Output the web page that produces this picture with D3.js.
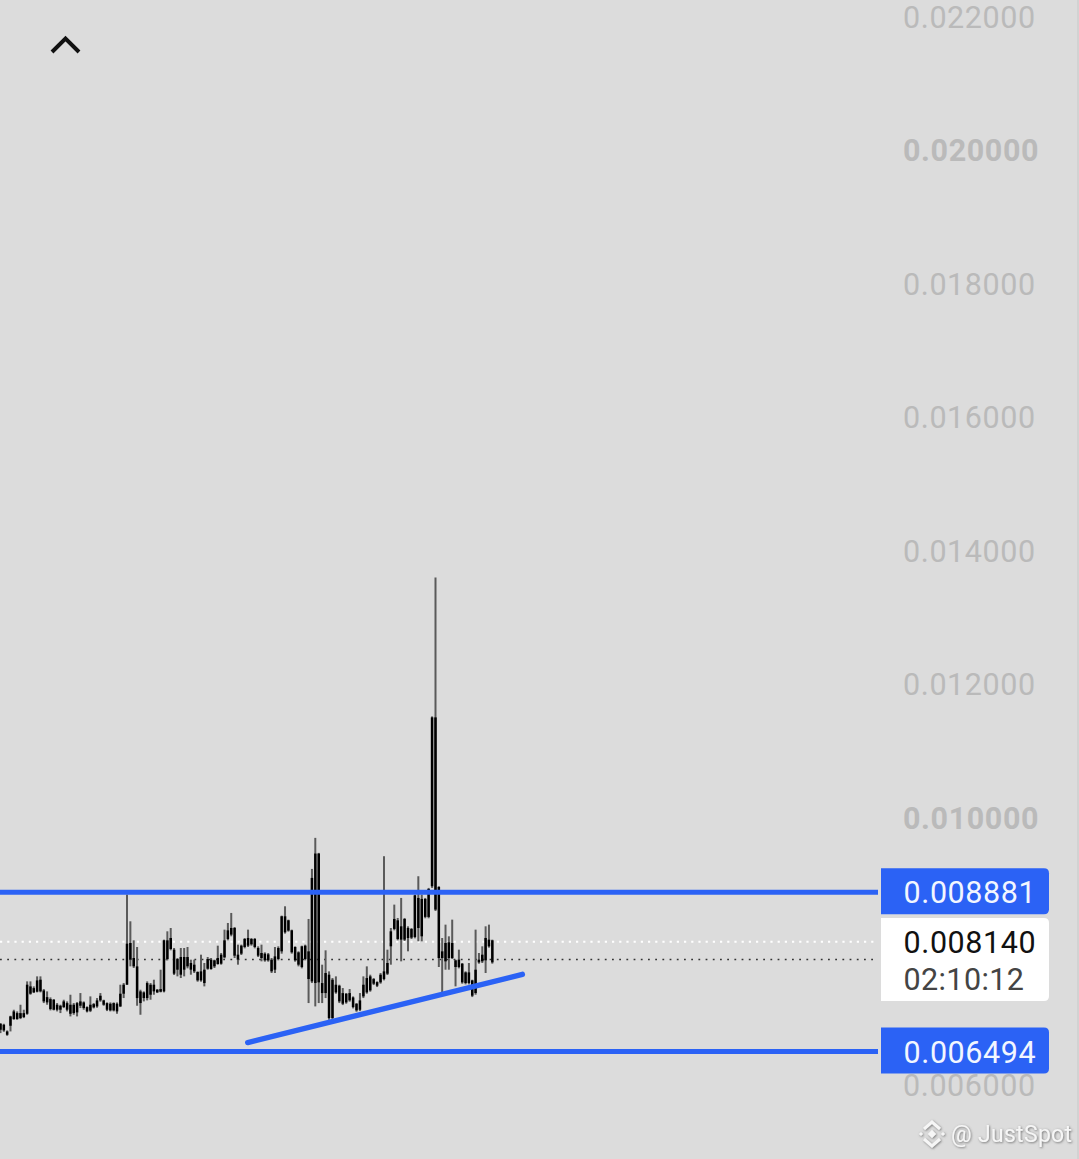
<!DOCTYPE html>
<html><head><meta charset="utf-8">
<script src="https://cdn.jsdelivr.net/npm/d3@7"></script>
<style>html,body{margin:0;padding:0;background:#dcdcdc}svg{display:block}text{font-family:Roboto,sans-serif}</style>
</head><body><svg id="c" width="1079" height="1159"></svg>
<script>
// Prices in millionths (0.000001)
const highs=[6920,6910,6810,7030,7120,7095,7195,7120,7545,7545,7470,7620,7620,7430,7395,7305,7280,7220,7195,7270,7245,7345,7220,7235,7370,7245,7170,7320,7220,7295,7370,7270,7230,7230,7230,7230,7495,7520,8845,8445,8160,8060,7420,7395,7545,7520,7570,7430,7720,8170,8295,8345,8045,7895,8045,8045,8060,7870,7870,7695,7945,7820,7910,7895,7870,8080,7970,8320,8420,8570,8360,8095,8095,8195,8320,8195,8195,8070,8095,7980,7970,7895,8060,8070,8530,8670,8470,8320,8070,7995,8080,8095,8480,9230,9695,9470,7795,8010,7695,7595,7620,7495,7445,7370,7430,7320,7220,7370,7620,7770,7645,7595,7545,7670,9420,8020,8345,8695,8495,8795,8495,8370,8345,8845,9120,8845,8795,8945,11515,13595,8970,8195,8395,8220,8470,7870,8020,7820,7695,7820,7570,8320,7970,8070,8370,8395,8170];
const lows=[6770,6790,6730,6795,6970,6970,6980,6995,7045,7345,7370,7380,7380,7220,7195,7110,7110,7095,7070,7145,7095,7020,7045,7020,7145,7120,7080,7085,7140,7150,7240,7180,7100,7095,7095,7060,7160,7295,7495,7770,7745,7180,7045,7245,7260,7270,7345,7370,7380,7380,7860,8010,7640,7620,7595,7620,7740,7645,7670,7540,7540,7470,7720,7720,7745,7795,7795,7890,8160,8220,7895,7795,7940,8040,8060,8080,8040,7910,7845,7840,7840,7670,7670,7860,7960,8260,8290,7960,7840,7770,7740,7860,7220,7520,7170,7220,7220,7295,6970,6920,7360,7220,7190,7210,7240,7140,7090,7100,7295,7360,7390,7490,7460,7510,7560,7640,7795,8310,8160,7845,8150,7995,8180,8190,8145,8145,8490,8490,8945,8600,7760,7370,7720,7720,7880,7470,7740,7510,7500,7500,7310,7345,7810,7820,7670,8050,7810];
const bodyTops=[6910,6895,6795,7020,7095,7070,7070,7070,7495,7470,7445,7560,7570,7410,7310,7280,7270,7195,7180,7245,7220,7195,7195,7220,7245,7230,7160,7195,7205,7260,7330,7260,7220,7210,7220,7210,7360,7495,8110,8120,7895,7770,7395,7380,7520,7495,7495,7420,7430,8160,8160,8195,8020,7880,7910,7910,7910,7820,7795,7685,7695,7720,7880,7870,7860,7895,7945,8160,8310,8345,8345,7945,8080,8180,8195,8180,8180,8045,7970,7960,7950,7870,7920,8045,8520,8520,8460,8310,8060,7980,8070,8080,7995,9095,9460,9460,7520,7670,7645,7570,7495,7480,7370,7360,7370,7305,7210,7260,7495,7595,7620,7580,7535,7645,7695,7820,8295,8480,8460,8370,8480,8345,8330,8835,8795,8780,8780,8930,11500,11500,8960,7995,8120,8130,8120,7860,7870,7810,7680,7680,7560,7720,7870,7945,8195,8170,8160];
const bodyBottoms=[6820,6810,6745,6880,6980,6980,6995,7010,7060,7360,7380,7390,7395,7245,7230,7130,7120,7120,7120,7160,7120,7060,7070,7080,7180,7145,7095,7105,7155,7170,7260,7195,7120,7110,7110,7095,7170,7360,7495,7870,7770,7295,7220,7295,7295,7345,7395,7380,7390,7395,7880,8030,7660,7720,7645,7720,7770,7720,7695,7560,7560,7520,7735,7730,7770,7805,7810,7905,8180,8245,7930,7870,7960,8060,8080,8100,8060,7930,7895,7860,7860,7695,7720,7880,7995,8280,8305,7980,7860,7795,7760,7880,7580,7545,7520,7530,7370,7370,6995,6995,7380,7245,7210,7230,7260,7160,7110,7120,7320,7380,7410,7510,7480,7530,7580,7660,8070,8330,8180,8170,8170,8195,8200,8210,8345,8220,8510,8510,8970,8620,7895,7895,7845,7895,7895,7760,7760,7530,7520,7520,7330,7370,7830,7845,7860,8070,7830];
const tickValues=[0.022,0.02,0.018,0.016,0.014,0.012,0.01,0.008,0.006];
const hiddenTicks=[0.008];
const boldTicks=[0.02,0.01];
const levels=[0.008881,0.006494];
const lastPrice=0.00814;
const prevLevel=0.007873;
const countdown="02:10:12";
const trendIndex=[73.9,155.0];
const trendPrice=[0.006629,0.00765];
const watermark="@ JustSpot";

const BLUE="#2b62f5";
const svg=d3.select("#c");
const defs=svg.append("defs");
defs.append("filter").attr("id","soft").attr("x","-5%").attr("y","-5%").attr("width","110%").attr("height","110%")
  .append("feGaussianBlur").attr("stdDeviation",0.4);
const wmF=defs.append("filter").attr("id","wm").attr("x","-10%").attr("y","-20%").attr("width","120%").attr("height","140%");
wmF.append("feDropShadow").attr("dx",0.8).attr("dy",0.8).attr("stdDeviation",0.9).attr("flood-color","#666").attr("flood-opacity",0.9);

svg.append("rect").attr("width",1079).attr("height",1159).attr("fill","#dcdcdc");
svg.append("rect").attr("x",1077).attr("width",2).attr("height",1159).attr("fill","#d2d2d2");

const y=d3.scaleLinear().domain([0.006,0.022]).range([1084.5,16.5]);
const x=d3.scaleLinear().domain([0,38,94,129,146]).range([0.5,127,315.3,435.5,492.3]);
const unit=1e-6;

// axis
const axis=d3.axisRight(y).tickValues(tickValues).tickSize(0).tickPadding(0).tickFormat(d3.format(".6f"));
const ax=svg.append("g").attr("transform","translate(903,0)").call(axis);
ax.select(".domain").remove();
ax.selectAll("text").attr("x",0).attr("dy","0.35em").attr("fill","#bababa")
  .style("font-family","Roboto,sans-serif").style("font-size","30.5px").style("letter-spacing","0.6px")
  .style("font-weight",d=>boldTicks.includes(d)?700:400)
  .style("display",d=>hiddenTicks.includes(d)?"none":null);

// dotted lines
svg.append("line").attr("x1",0).attr("x2",878).attr("y1",y(lastPrice)).attr("y2",y(lastPrice))
  .attr("stroke","#fff").attr("stroke-width",2).attr("stroke-dasharray","2.2 5");
svg.append("line").attr("x1",0).attr("x2",878).attr("y1",y(prevLevel)).attr("y2",y(prevLevel))
  .attr("stroke","#333").attr("stroke-width",1.6).attr("stroke-dasharray","1.8 5.4");

// candles
const idx=d3.range(highs.length);
const g=svg.append("g").attr("filter","url(#soft)");
g.selectAll("line.w").data(idx).join("line").attr("class","w")
  .attr("x1",i=>x(i)).attr("x2",i=>x(i))
  .attr("y1",i=>y(highs[i]*unit)).attr("y2",i=>y(lows[i]*unit))
  .attr("stroke","#5a5a5a").attr("stroke-width",2);
g.selectAll("rect.b").data(idx).join("rect").attr("class","b")
  .attr("x",i=>x(i)-1.25).attr("width",2.5)
  .attr("y",i=>y(bodyTops[i]*unit))
  .attr("height",i=>Math.max(1,y(bodyBottoms[i]*unit)-y(bodyTops[i]*unit)))
  .attr("fill","#050505");

// levels
levels.forEach(v=>{
  svg.append("line").attr("x1",0).attr("x2",878).attr("y1",y(v)).attr("y2",y(v))
    .attr("stroke",BLUE).attr("stroke-width",5);
});
svg.append("line").attr("x1",x(trendIndex[0])).attr("x2",x(trendIndex[1]))
  .attr("y1",y(trendPrice[0])).attr("y2",y(trendPrice[1]))
  .attr("stroke",BLUE).attr("stroke-width",5.4).attr("stroke-linecap","round");

// price labels
function tag(yTop,h,fill){
  const p=d3.path(),l=881,r=1049,q=5;
  p.moveTo(l,yTop);p.lineTo(r-q,yTop);p.quadraticCurveTo(r,yTop,r,yTop+q);
  p.lineTo(r,yTop+h-q);p.quadraticCurveTo(r,yTop+h,r-q,yTop+h);p.lineTo(l,yTop+h);p.closePath();
  svg.append("path").attr("d",p.toString()).attr("fill",fill);
}
const fmt=d3.format(".6f");
levels.forEach(v=>{
  const yy=y(v);
  tag(yy-24,46,BLUE);
  svg.append("text").attr("x",903.5).attr("y",yy).attr("dy","0.36em").attr("fill","#f2f6ff")
    .style("font-size","30.5px").style("letter-spacing","0.6px").text(fmt(v));
});
tag(918,83,"#ffffff");
svg.append("text").attr("x",903.5).attr("y",942.5).attr("dy","0.36em").attr("fill","#111")
  .style("font-size","30.5px").style("letter-spacing","0.6px").text(fmt(lastPrice));
svg.append("text").attr("x",903.5).attr("y",979).attr("dy","0.36em").attr("fill","#444")
  .style("font-size","30.5px").style("letter-spacing","0.4px").text(countdown);

// chevron
svg.append("path").attr("d",d3.line()([[52,52],[65.5,38.5],[79,52]])).attr("fill","none")
  .attr("stroke","#111").attr("stroke-width",4);

// watermark
const wm=svg.append("g").attr("filter","url(#wm)");
const logo=wm.append("g").attr("transform","translate(932,1134)").attr("fill","none").attr("stroke","#f6f6f6").attr("stroke-width",3);
logo.append("path").attr("d",d3.line()([[-8,-5],[0,-12],[8,-5]]));
logo.append("path").attr("d",d3.line()([[-8,5],[0,12],[8,5]]));
logo.append("rect").attr("x",-12.5).attr("y",-1.5).attr("width",3).attr("height",3).attr("fill","#f6f6f6").attr("stroke","none").attr("transform","rotate(45 -11 0)");
logo.append("rect").attr("x",9.5).attr("y",-1.5).attr("width",3).attr("height",3).attr("fill","#f6f6f6").attr("stroke","none").attr("transform","rotate(45 11 0)");
logo.append("rect").attr("x",-3).attr("y",-3).attr("width",6).attr("height",6).attr("fill","#f6f6f6").attr("stroke","none").attr("transform","rotate(45)");
wm.append("text").attr("x",951).attr("y",1134).attr("dy","0.36em").attr("fill","#f6f6f6")
  .style("font-size","23px").style("letter-spacing","0.3px").text(watermark);
</script></body></html>
